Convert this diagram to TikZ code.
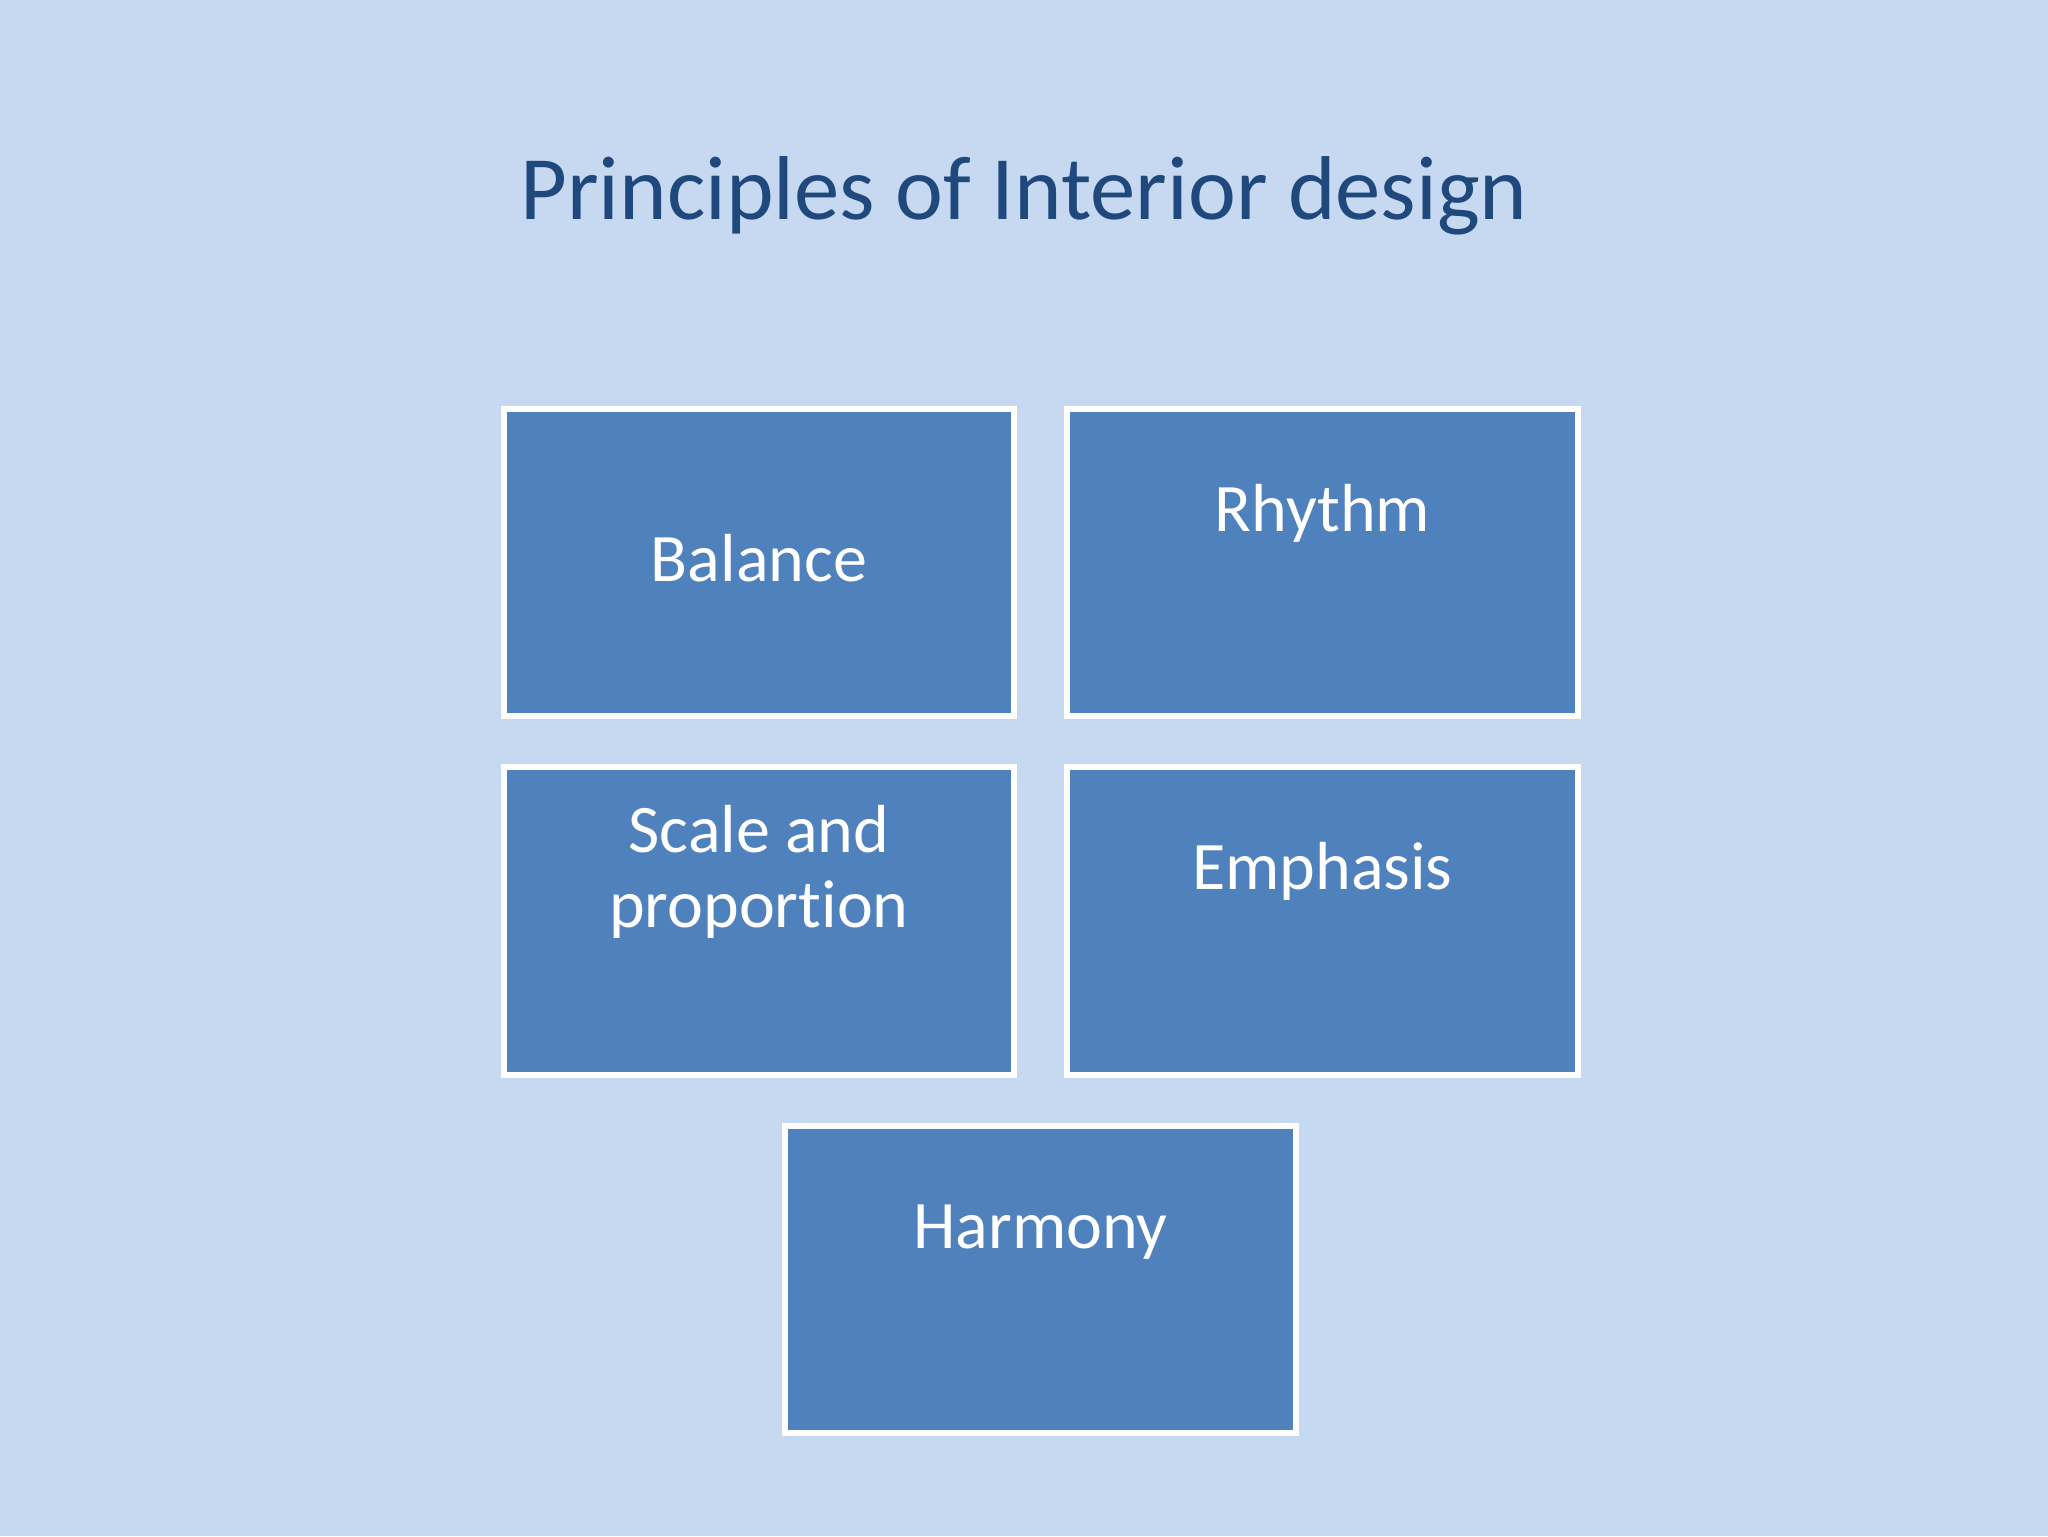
\documentclass[tikz,border=0pt]{standalone}
\usepackage{fontspec}
\setmainfont{Carlito}[Ligatures={NoCommon}]

\definecolor{slidebg}{HTML}{C6D9F1}
\definecolor{boxblue}{HTML}{4F81BD}
\definecolor{titleblue}{HTML}{1F497D}

\tikzstyle{every node}=[font=\fontsize{24pt}{26.4pt}\selectfont]
\tikzstyle{principle}=[draw=white, line width=2.1pt, fill=boxblue, text=white, inner sep=0pt,
  minimum width=6.33cm, minimum height=3.81cm, align=center]
\tikzstyle{toptext}=[text height=1.51cm, text depth=2.29cm]
\tikzstyle{midtext}=[text height=2.14cm, text depth=1.66cm]

\begin{document}
\begin{tikzpicture}[x=0.0124cm, y=-0.0124cm]
	% Pozadí snímku
	\fill[slidebg] (0,0) rectangle (2048,1536);
	\useasboundingbox (0,0) rectangle (2048,1536);

	% Nadpis
	\node[anchor=base, text=titleblue, font=\fontsize{32pt}{38pt}\selectfont] (title) at (1024,220)
		{Principles of Interior design};

	% Horní řada
	\node[principle, midtext] (balance) at (759,562.5) {Balance};
	\node[principle, toptext] (rhythm) at (1322.5,562.5) {Rhythm};

	% Prostřední řada
	\node[principle, text height=1.98cm, text depth=1.82cm] (scale) at (759,921) {Scale and\\proportion};
	\node[principle, toptext] (emphasis) at (1322.5,921) {Emphasis};

	% Dolní box
	\node[principle, toptext] (harmony) at (1040.5,1279.5) {Harmony};
\end{tikzpicture}
\end{document}
